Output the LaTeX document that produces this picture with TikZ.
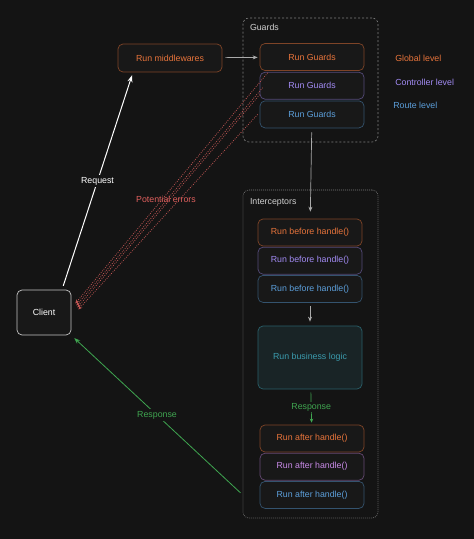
\documentclass[tikz,border=0pt]{standalone}
\usepackage{fontspec}
\setmainfont{Liberation Sans}
\usetikzlibrary{arrows.meta}
\usetikzlibrary{positioning}
\definecolor{bgc}{HTML}{141414}
\definecolor{boxc}{HTML}{181818}
\definecolor{orangec}{HTML}{E8743B}
\definecolor{purplec}{HTML}{A28BF4}
\definecolor{pinkc}{HTML}{C98AE8}
\definecolor{bluec}{HTML}{5C9FDB}
\definecolor{tealc}{HTML}{3B9CAE}
\definecolor{greenc}{HTML}{3FA550}
\definecolor{redc}{HTML}{E0605E}
\definecolor{grayc}{HTML}{AAAAAA}

\begin{document}
\begin{tikzpicture}[x=1pt,y=1pt,>=Stealth,semithick,
			font=\fontsize{8.8}{10.5}\selectfont,
			node distance=1pt]
			\tikzstyle{box}=[draw,rounded corners=5pt,minimum width=104pt,
				minimum height=27pt,inner sep=0pt,fill=boxc,line width=0.7pt]
			\tikzstyle{orangebox}=[box,draw=orangec!50!bgc,text=orangec]
			\tikzstyle{purplebox}=[box,draw=purplec!45!bgc,text=purplec]
			\tikzstyle{pinkbox}=[box,draw=pinkc!45!bgc,text=pinkc]
			\tikzstyle{bluebox}=[box,draw=bluec!45!bgc,text=bluec]
			\tikzstyle{group}=[draw=white!45!bgc,rounded corners=6pt,line width=0.6pt,
				minimum width=135pt,inner sep=0pt]
			\tikzstyle{grouplabel}=[anchor=north west,inner sep=0pt,text=white!80!bgc]
			\tikzstyle{level}=[anchor=west,inner sep=0pt]
			\tikzstyle{flow}=[->,draw=grayc,line width=0.7pt,
				>={Stealth[length=5pt,width=4pt]}]
			\tikzstyle{error}=[->,draw=redc!85!bgc,dash pattern=on 0.8pt off 1.4pt,
				line width=0.8pt,>={Stealth[length=4pt,width=3.5pt]}]
			
			\useasboundingbox (0,0) rectangle (474,-539);
			\fill[bgc] (0,0) rectangle (474,-539);
			
			% containers
			\node[group, dash pattern=on 2pt off 2pt, minimum height=124pt] (guards) at (310.5,-80) {};
			\node[grouplabel] (guardsl) at ([shift={(7pt,-6pt)}]guards.north west) {Guards};
			\node[group, dash pattern=on 0.8pt off 1.2pt, minimum height=328pt] (icpt) at (310.5,-354) {};
			\node[grouplabel] (icptl) at ([shift={(7pt,-8pt)}]icpt.north west) {Interceptors};
			
			% request side
			\node[box, draw=white!75!bgc, text=white, minimum width=54pt,
				minimum height=45pt] (client) at (44,-312.5) {Client};
			\node[orangebox, minimum height=28pt] (mw) at (170,-58) {Run middlewares};
			
			% guards
			\node[orangebox] (g1) at (312,-57) {Run Guards};
			\node[purplebox, below=1pt of g1] (g2) {Run Guards};
			\node[bluebox, below=1pt of g2] (g3) {Run Guards};
			
			\node[level, text=orangec] (glob) at (395,-58) {Global level};
			\node[level, text=purplec] (ctrl) at (395,-82.5) {Controller level};
			\node[level, text=bluec] (route) at (393,-105) {Route level};
			
			% interceptors
			\node[orangebox] (b1) at (310,-232.5) {Run before handle()};
			\node[purplebox, below=0.5pt of b1] (b2) {Run before handle()};
			\node[bluebox, below=0.5pt of b2] (b3) {Run before handle()};
			
			\node[box, fill=tealc!12!bgc, draw=tealc!55!bgc, text=tealc,
				minimum height=63pt] (logic) at (310,-357.5) {Run business logic};
			
			\node[orangebox] (a1) at (312,-438.5) {Run after handle()};
			\node[pinkbox, below=0.5pt of a1] (a2) {Run after handle()};
			\node[bluebox, below=0.5pt of a2] (a3) {Run after handle()};
			
			\node[text=redc] (errl) at (166,-199) {Potential errors};
			
			\path
			(mw) edge [flow, shorten <=3pt, shorten >=2pt] (g1)
			(g3) edge [flow, shorten <=4pt, shorten >=7pt] (b1)
			(b3) edge [flow, shorten <=3pt, shorten >=4pt] (logic)
			(logic) edge [->, draw=greenc, line width=0.7pt, shorten <=3pt, shorten >=2pt,
				>={Stealth[length=4pt,width=3.5pt]}]
				node [fill=bgc, text=greenc, inner sep=1.5pt] {Response} (a1)
			([xshift=18pt]client.north) edge [->, draw=white, line width=1pt,
				shorten <=4pt, shorten >=3pt, >={Stealth[length=7pt,width=5pt]}]
				node [fill=bgc, text=white, inner sep=2pt] {Request} ([xshift=-37pt]mw.south)
			(icpt.west |- a3.center) edge [->, draw=greenc, line width=0.8pt,
				shorten <=3pt, shorten >=4pt, >={Stealth[length=6pt,width=4.5pt]}]
				node [fill=bgc, text=greenc, inner sep=2pt] {Response} (client.south east)
			;
			
			% error paths
			\path
			([shift={(8pt,-2pt)}]g1.south west) edge [error] ([shift={(4pt,9pt)}]client.east)
			([shift={(3pt,-2pt)}]g2.west) edge [error] ([shift={(5pt,7pt)}]client.east)
			([shift={(0pt,-9pt)}]g2.west) edge [error] ([shift={(6pt,5pt)}]client.east)
			([shift={(-2pt,0pt)}]g3.west) edge [error] ([shift={(7pt,3pt)}]client.east)
			;
			\end{tikzpicture}
\end{document}
